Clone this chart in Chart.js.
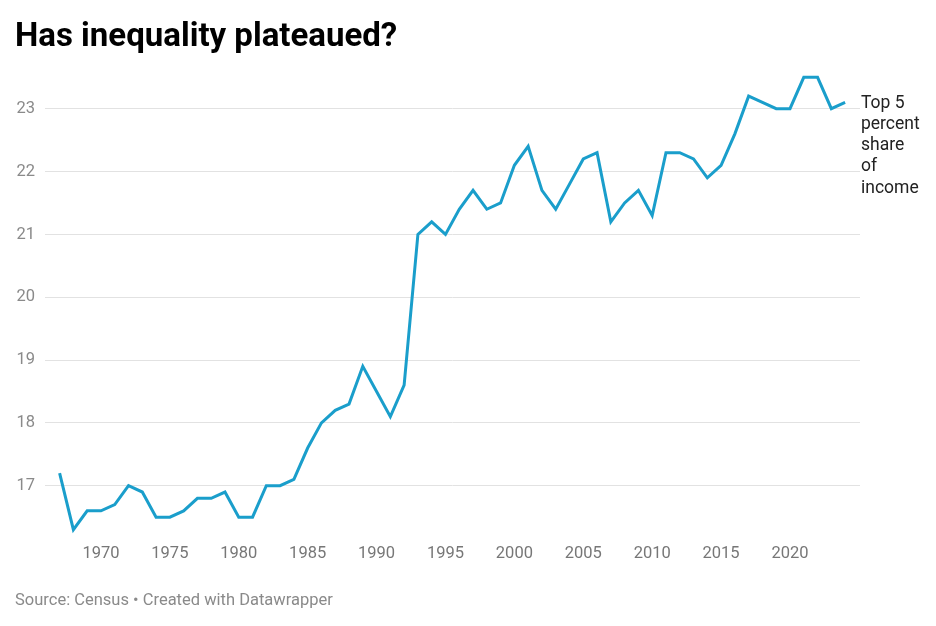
<!DOCTYPE html>
<html>
<head>
<meta charset="utf-8">
<script src="https://cdn.jsdelivr.net/npm/chart.js@4"></script>
<style>
  body { margin: 0; background: #fff; font-family: Roboto, sans-serif; }
  #wrap { position: relative; width: 936px; height: 626px; }
  #title { position: absolute; left: 15px; top: 15px; font-size: 33px; line-height: 40px; font-weight: 700; color: #000; }
  #source { position: absolute; left: 15px; top: 590px; font-size: 16.5px; line-height: 20px; color: #8a8a8a; }
  canvas { position: absolute; left: 0; top: 0; }
</style>
</head>
<body>
<div id="wrap">
  <canvas id="chart" width="936" height="626"></canvas>
  <div id="title">Has inequality plateaued?</div>
  <div id="source">Source: Census • Created with Datawrapper</div>
</div>
<script>
const years = [];
for (let y = 1967; y <= 2024; y++) years.push(y);

const topFiveShare = [
  17.2, 16.3, 16.6, 16.6, 16.7, 17.0, 16.9, 16.5, 16.5, 16.6,
  16.8, 16.8, 16.9, 16.5, 16.5, 17.0, 17.0, 17.1, 17.6, 18.0,
  18.2, 18.3, 18.9, 18.5, 18.1, 18.6, 21.0, 21.2, 21.0, 21.4,
  21.7, 21.4, 21.5, 22.1, 22.4, 21.7, 21.4, 21.8, 22.2, 22.3,
  21.2, 21.5, 21.7, 21.3, 22.3, 22.3, 22.2, 21.9, 22.1, 22.6,
  23.2, 23.1, 23.0, 23.0, 23.5, 23.5, 23.0, 23.1
];

const xTicks = [1970, 1975, 1980, 1985, 1990, 1995, 2000, 2005, 2010, 2015, 2020];
const yTicks = [17, 18, 19, 20, 21, 22, 23];
const seriesLabel = ["Top 5", "percent", "share", "of", "income"];

// label at the end of the line
const endLabel = {
  id: "endLabel",
  afterDatasetsDraw(chart) {
    const meta = chart.getDatasetMeta(0);
    const last = meta.data[meta.data.length - 1];
    const ctx = chart.ctx;
    ctx.save();
    ctx.font = "17.5px Roboto";
    ctx.fillStyle = "#222";
    ctx.textBaseline = "middle";
    seriesLabel.forEach((t, i) => {
      ctx.fillText(t, chart.chartArea.right + 1, last.y + 1 + i * 21.2);
    });
    ctx.restore();
  }
};

new Chart(document.getElementById("chart"), {
  type: "line",
  data: {
    datasets: [{
      data: years.map((y, i) => ({ x: y, y: topFiveShare[i] })),
      borderColor: "#1a9ecb",
      borderWidth: 3,
      pointRadius: 0,
      tension: 0,
      fill: false
    }]
  },
  options: {
    responsive: false,
    animation: false,
    layout: { padding: { top: 71, right: 76, bottom: 60, left: 0 } },
    plugins: { legend: { display: false }, tooltip: { enabled: false } },
    scales: {
      x: {
        type: "linear",
        min: 1965.94,
        max: 2025.08,
        afterBuildTicks: s => { s.ticks = xTicks.map(v => ({ value: v })); },
        afterFit: s => { s.height = 30; },
        grid: { display: false, drawTicks: false },
        border: { display: false },
        ticks: {
          padding: 8,
          color: "#777",
          font: { family: "Roboto", size: 16.5 },
          callback: v => String(v)
        }
      },
      y: {
        min: 16.2,
        max: 23.6,
        afterBuildTicks: s => { s.ticks = yTicks.map(v => ({ value: v })); },
        afterFit: s => { s.width = 45; },
        grid: { color: "#e2e2e2", lineWidth: 1, drawTicks: false },
        border: { display: false },
        ticks: {
          padding: 10,
          color: "#8a8a8a",
          font: { family: "Roboto", size: 16.5 },
          callback: v => String(v)
        }
      }
    }
  },
  plugins: [endLabel]
});
</script>
</body>
</html>
